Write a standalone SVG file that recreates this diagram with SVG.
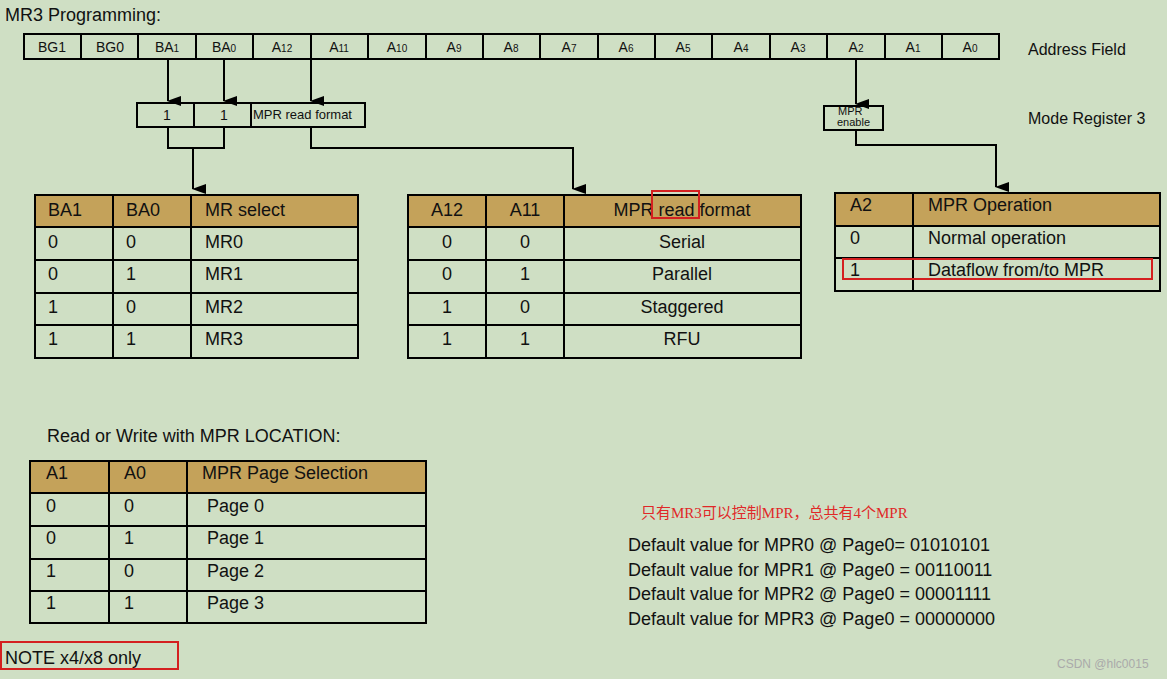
<svg xmlns="http://www.w3.org/2000/svg" width="1167" height="679" viewBox="0 0 1167 679">
<defs>
<marker id="ah" markerWidth="10" markerHeight="14" refX="5" refY="13" orient="auto-start-reverse" markerUnits="userSpaceOnUse" viewBox="0 0 10 14"><path d="M0,0 L5,14 L10,0 Z" fill="#000"/></marker>
</defs>
<style>
text{font-family:"Liberation Sans",Arial,sans-serif;fill:#111}
.cell{fill:none;stroke:#000;stroke-width:2}
.hdr{fill:#c4a25a;stroke:#000;stroke-width:2}
.t{font-size:18px}
.a{font-size:14px;text-anchor:middle}
.s{font-size:10px}
.ln{fill:none;stroke:#000;stroke-width:2}
.red{fill:none;stroke:#d42020;stroke-width:2}
</style>
<rect width="1167" height="679" fill="#cfdfc4"/>
<text x="5" y="21" font-size="18">MR3 Programming:</text>
<g id="address">
<rect class="cell" x="24" y="34" width="975" height="25"/>
<path class="ln" d="M81,34V59M138,34V59M196,34V59M253,34V59M311,34V59M368,34V59M426,34V59M483,34V59M540,34V59M598,34V59M655,34V59M712,34V59M770,34V59M827,34V59M885,34V59M942,34V59"/>
<text class="a" x="52" y="52">BG1</text><text class="a" x="110" y="52">BG0</text>
<text class="a" x="167" y="52">BA<tspan class="s">1</tspan></text><text class="a" x="224" y="52">BA<tspan class="s">0</tspan></text>
<text class="a" x="282" y="52">A<tspan class="s">12</tspan></text><text class="a" x="339" y="52">A<tspan class="s">11</tspan></text>
<text class="a" x="397" y="52">A<tspan class="s">10</tspan></text><text class="a" x="454" y="52">A<tspan class="s">9</tspan></text>
<text class="a" x="511" y="52">A<tspan class="s">8</tspan></text><text class="a" x="569" y="52">A<tspan class="s">7</tspan></text>
<text class="a" x="626" y="52">A<tspan class="s">6</tspan></text><text class="a" x="683" y="52">A<tspan class="s">5</tspan></text>
<text class="a" x="741" y="52">A<tspan class="s">4</tspan></text><text class="a" x="798" y="52">A<tspan class="s">3</tspan></text>
<text class="a" x="856" y="52">A<tspan class="s">2</tspan></text><text class="a" x="913" y="52">A<tspan class="s">1</tspan></text>
<text class="a" x="970" y="52">A<tspan class="s">0</tspan></text>
<text x="1028" y="55" font-size="16">Address Field</text>
</g>
<g id="mr3">
<rect class="cell" x="137" y="103" width="228" height="24"/>
<path class="ln" d="M194,103V127M251,103V127"/>
<text class="a" x="167" y="120">1</text><text class="a" x="224" y="120">1</text>
<text x="253" y="119" font-size="13">MPR read format</text>
<rect class="cell" x="824" y="106" width="59" height="24"/>
<text x="838" y="115" font-size="11">MPR</text><text x="837" y="126" font-size="11">enable</text>
<text x="1028" y="124" font-size="16">Mode Register 3</text>
</g>
<g id="connectors">
<path class="ln" d="M168,59V101" marker-end="url(#ah)"/>
<path class="ln" d="M224,59V101" marker-end="url(#ah)"/>
<path class="ln" d="M311,59V101" marker-end="url(#ah)"/>
<path class="ln" d="M856,59V104" marker-end="url(#ah)"/>
<path class="ln" d="M168,127V148H224V127M193,148V189" marker-end="url(#ah)"/>
<path class="ln" d="M311,127V148H573V189" marker-end="url(#ah)"/>
<path class="ln" d="M856,130V145H996V187" marker-end="url(#ah)"/>
</g>
<g id="table-mrselect" class="t">
<rect class="hdr" x="35" y="195" width="323" height="32"/>
<rect class="cell" x="35" y="195" width="323" height="163"/>
<path class="ln" d="M113,195V358M191,195V358M35,260H358M35,293H358M35,325H358"/>
<text x="48" y="216">BA1</text><text x="126" y="216">BA0</text><text x="205" y="216">MR select</text>
<text x="48" y="248">0</text><text x="126" y="248">0</text><text x="205" y="248">MR0</text>
<text x="48" y="280">0</text><text x="126" y="280">1</text><text x="205" y="280">MR1</text>
<text x="48" y="313">1</text><text x="126" y="313">0</text><text x="205" y="313">MR2</text>
<text x="48" y="345">1</text><text x="126" y="345">1</text><text x="205" y="345">MR3</text>
</g>
<g id="table-readformat" class="t" text-anchor="middle">
<rect class="hdr" x="408" y="195" width="393" height="32"/>
<rect class="cell" x="408" y="195" width="393" height="163"/>
<path class="ln" d="M486,195V358M564,195V358M408,260H801M408,293H801M408,325H801"/>
<text x="447" y="216">A12</text><text x="525" y="216">A11</text><text x="682" y="216">MPR read format</text>
<text x="447" y="248">0</text><text x="525" y="248">0</text><text x="682" y="248">Serial</text>
<text x="447" y="280">0</text><text x="525" y="280">1</text><text x="682" y="280">Parallel</text>
<text x="447" y="313">1</text><text x="525" y="313">0</text><text x="682" y="313">Staggered</text>
<text x="447" y="345">1</text><text x="525" y="345">1</text><text x="682" y="345">RFU</text>
<rect class="red" x="652" y="191" width="47" height="27"/>
</g>
<g id="table-operation" class="t">
<rect class="hdr" x="835" y="193" width="325" height="33"/>
<rect class="cell" x="835" y="193" width="325" height="98"/>
<path class="ln" d="M913,193V291M835,258H1160"/>
<text x="850" y="211">A2</text><text x="928" y="211">MPR Operation</text>
<text x="850" y="244">0</text><text x="928" y="244">Normal operation</text>
<text x="850" y="276">1</text><text x="928" y="276">Dataflow from/to MPR</text>
<rect class="red" x="843" y="259" width="309" height="20"/>
</g>
<text x="47" y="442" font-size="18">Read or Write with MPR LOCATION:</text>
<g id="table-page" class="t">
<rect class="hdr" x="30" y="461" width="396" height="32"/>
<rect class="cell" x="30" y="461" width="396" height="162"/>
<path class="ln" d="M109,461V623M187,461V623M30,526H426M30,559H426M30,591H426"/>
<text x="46" y="479">A1</text><text x="124" y="479">A0</text><text x="202" y="479">MPR  Page Selection</text>
<text x="46" y="512">0</text><text x="124" y="512">0</text><text x="207" y="512">Page 0</text>
<text x="46" y="544">0</text><text x="124" y="544">1</text><text x="207" y="544">Page 1</text>
<text x="46" y="577">1</text><text x="124" y="577">0</text><text x="207" y="577">Page 2</text>
<text x="46" y="609">1</text><text x="124" y="609">1</text><text x="207" y="609">Page 3</text>
</g>
<g id="note">
<rect class="red" x="1" y="642" width="177" height="27"/>
<text x="5" y="664" font-size="18">NOTE   x4/x8 only</text>
</g>
<text x="641" y="518" font-size="15" style="fill:#e02828;font-family:'Liberation Serif','Noto Sans CJK SC',serif">只有MR3可以控制MPR，总共有4个MPR</text>
<g font-size="18">
<text x="628" y="551">Default value for MPR0 @ Page0= 01010101</text>
<text x="628" y="576">Default value for MPR1 @ Page0 = 00110011</text>
<text x="628" y="600">Default value for MPR2 @ Page0 = 00001111</text>
<text x="628" y="625">Default value for MPR3 @ Page0 = 00000000</text>
</g>
<text x="1057" y="668" font-size="12" style="fill:#aaa">CSDN @hlc0015</text>
</svg>
